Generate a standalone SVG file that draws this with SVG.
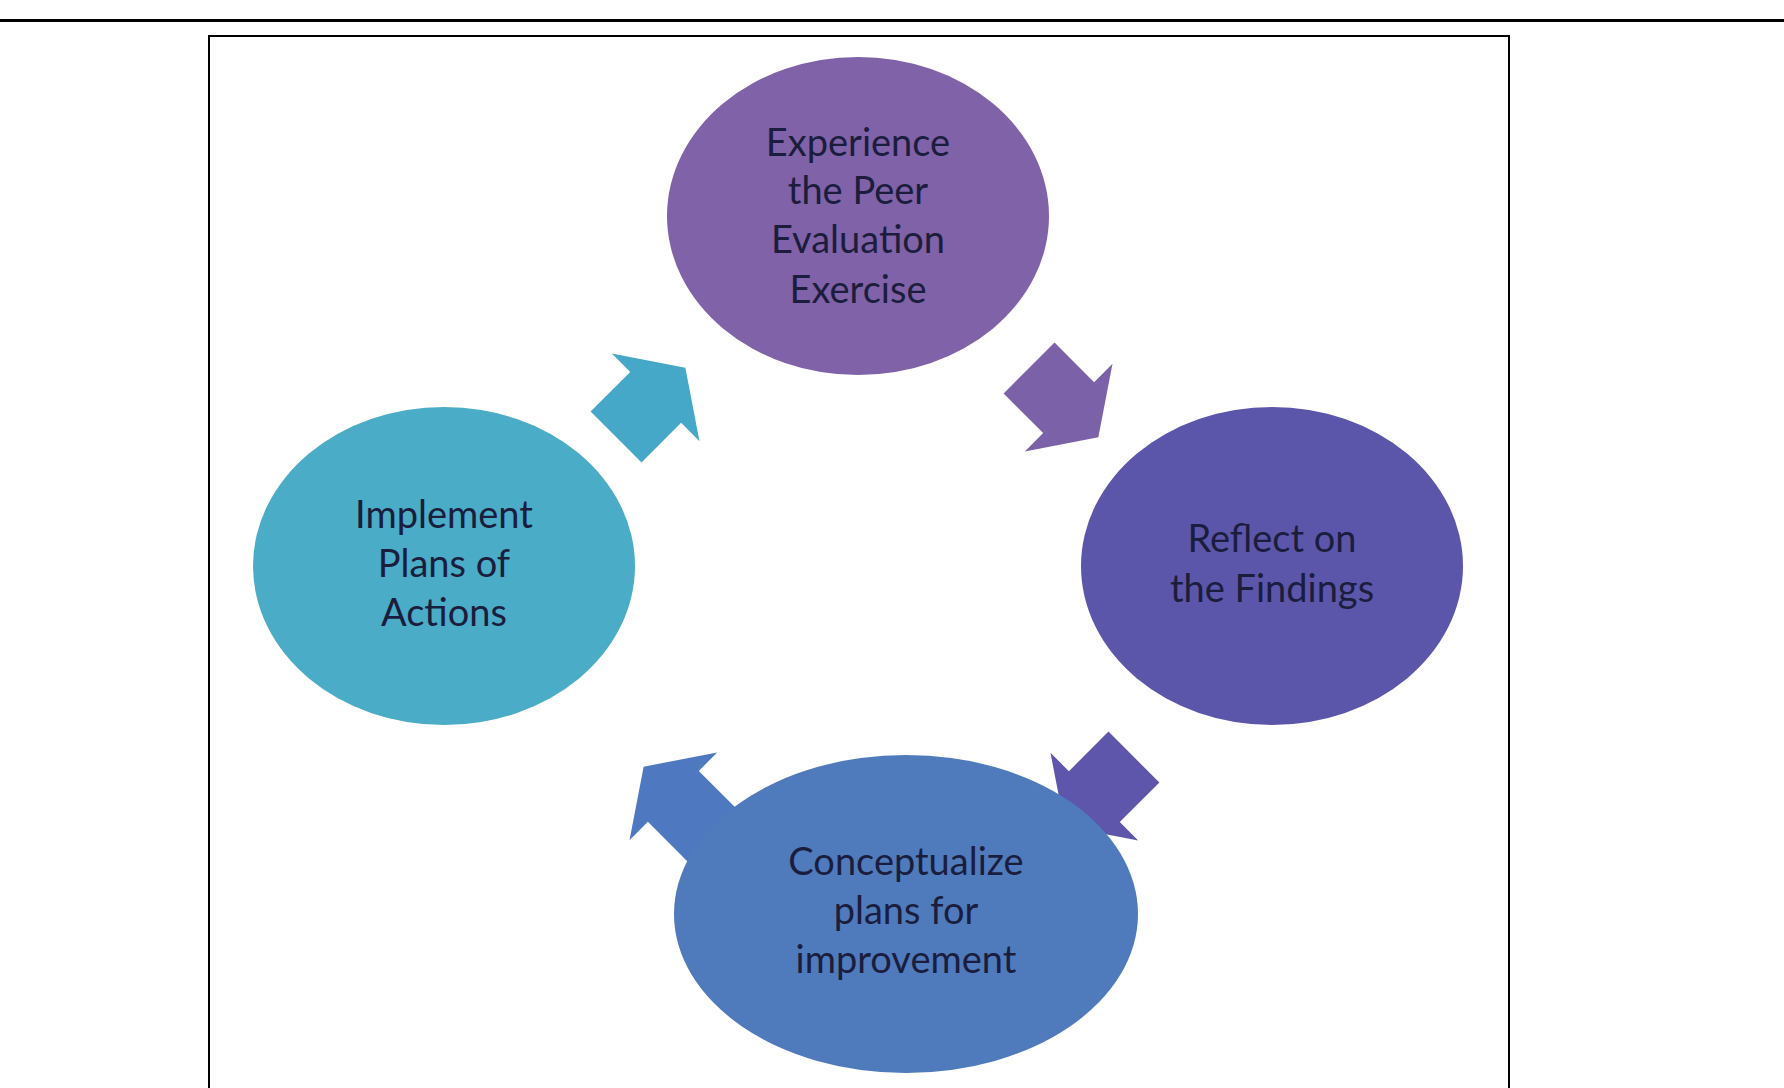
<svg xmlns="http://www.w3.org/2000/svg" width="1784" height="1088" viewBox="0 0 1784 1088">
<style>
text{font-family:Lato,"Open Sans","Liberation Sans",sans-serif;font-size:38px;fill:#1b1d3d;text-anchor:middle}
</style>
<defs>
<polygon id="arr" points="-48,-36 8,-36 8,-62 50,0 8,62 8,36 -48,36"/>
</defs>
<rect width="1784" height="1088" fill="#fff"/>
<rect x="0" y="19" width="1784" height="3" fill="#000"/>
<rect x="209" y="36" width="1300" height="1060" fill="none" stroke="#000" stroke-width="2"/>
<g id="connectors">
<use href="#arr" fill="#45a8c8" transform="translate(650,403) rotate(-45)"/>
<use href="#arr" fill="#7b62a8" transform="translate(1063,402) rotate(45)"/>
<use href="#arr" fill="#5d56ab" transform="translate(1100,791) rotate(135)"/>
<use href="#arr" fill="#4e78c0" transform="translate(679,802) rotate(-135)"/>
</g>
<g id="n1"><ellipse cx="858" cy="216" rx="191" ry="159" fill="#8062a8"/>
<text x="858" y="156">Experience</text><text x="858" y="204">the Peer</text><text x="858" y="253">Evaluation</text><text x="858" y="303">Exercise</text></g>
<g id="n2"><ellipse cx="1272" cy="566" rx="191" ry="159" fill="#5c56ab"/>
<text x="1272" y="552">Reflect on</text><text x="1272" y="602">the Findings</text></g>
<g id="n3"><ellipse cx="906" cy="914" rx="232" ry="159" fill="#4f7bbd"/>
<text x="906" y="875">Conceptualize</text><text x="906" y="924">plans for</text><text x="906" y="973">improvement</text></g>
<g id="n4"><ellipse cx="444" cy="566" rx="191" ry="159" fill="#4aacc7"/>
<text x="444" y="528">Implement</text><text x="444" y="577">Plans of</text><text x="444" y="626">Actions</text></g>
</svg>
